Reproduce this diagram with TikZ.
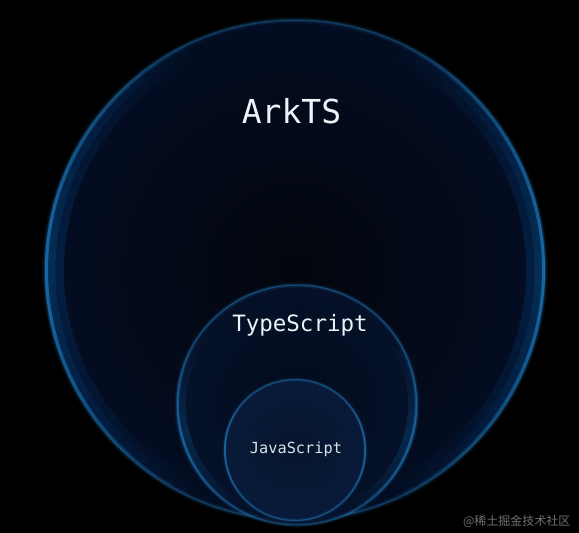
\documentclass[tikz,border=0pt]{standalone}
\usepackage{fontspec}
\setmonofont{DejaVu Sans Mono}
\newfontfamily\cjkfont{Noto Sans CJK SC}
\definecolor{arkcore}{HTML}{02050C}
\definecolor{arkinner}{HTML}{04102A}
\definecolor{arkmid}{HTML}{0C3066}
\definecolor{arkrim}{HTML}{1862B8}
\definecolor{tscore}{HTML}{040C1E}
\definecolor{tsinner}{HTML}{06142E}
\definecolor{tsmid}{HTML}{0E3062}
\definecolor{tsrim}{HTML}{1C62B2}
\definecolor{jscore}{HTML}{07162F}
\definecolor{jsinner}{HTML}{0A1E3E}
\definecolor{jsmid}{HTML}{103464}
\definecolor{jsrim}{HTML}{206ABA}
\definecolor{rimblue}{HTML}{2C9BEA}
\definecolor{labelwhite}{HTML}{EEF3FA}
\definecolor{markgrey}{HTML}{707070}
\pgfdeclareradialshading{arkball}{\pgfpoint{0bp}{0bp}}{color(0bp)=(arkcore); color(34bp)=(arkinner); color(44.5bp)=(arkmid); color(48.5bp)=(arkrim); color(50bp)=(rimblue)}
\pgfdeclareradialshading{tsball}{\pgfpoint{0bp}{0bp}}{color(0bp)=(tscore); color(30bp)=(tsinner); color(43bp)=(tsmid); color(48.3bp)=(tsrim); color(50bp)=(rimblue)}
\pgfdeclareradialshading{jsball}{\pgfpoint{0bp}{0bp}}{color(0bp)=(jscore); color(30bp)=(jsinner); color(43bp)=(jsmid); color(48.3bp)=(jsrim); color(50bp)=(rimblue)}
\tikzset{
  bubble/.style={circle,inner sep=0pt,shade},
  bubbletext/.style={anchor=base,text=labelwhite},
  sideglow/.style={rimblue,line width=3pt,opacity=0.05}
}

\begin{document}
\begin{tikzpicture}[x=1pt,y=-1pt]
        % 背景
        \fill[black] (0,0) rectangle (579,533);
        \useasboundingbox (0,0) rectangle (579,533);

        % 三个嵌套的圆
        \node[bubble,shading=arkball,minimum size=500pt] (arkts) at (295,270) {};
        \foreach \w/\o in {6/0.07,3/0.12,1.5/0.2}
            \draw[rimblue,line width=\w pt,opacity=\o] (arkts.center) circle[radius=250pt];
        \foreach \s in {4,8,...,64}{
            \draw[sideglow] ([shift={(180-\s:248.5pt)}]arkts.center) arc[start angle=180-\s,end angle=180+\s,radius=248.5pt];
            \draw[sideglow] ([shift={(-\s:248.5pt)}]arkts.center) arc[start angle=-\s,end angle=\s,radius=248.5pt];
            \foreach \r/\w in {244/9,240/18}{
                \draw[sideglow,line width=\w pt,opacity=0.012] ([shift={(180-\s:\r pt)}]arkts.center) arc[start angle=180-\s,end angle=180+\s,radius=\r pt];
                \draw[sideglow,line width=\w pt,opacity=0.012] ([shift={(-\s:\r pt)}]arkts.center) arc[start angle=-\s,end angle=\s,radius=\r pt];
            }
        }

        \node[bubble,shading=tsball,minimum size=240pt,opacity=0.9] (typescript) at (297,405) {};
        \foreach \w/\o in {5/0.08,2.5/0.15,1/0.3}
            \draw[rimblue,line width=\w pt,opacity=\o] (typescript.center) circle[radius=120pt];
        \foreach \s in {4,8,...,44}{
            \draw[sideglow,line width=2pt] ([shift={(195-\s:119pt)}]typescript.center) arc[start angle=195-\s,end angle=195+\s,radius=119pt];
            \draw[sideglow,line width=2pt] ([shift={(-15-\s:119pt)}]typescript.center) arc[start angle=-15-\s,end angle=-15+\s,radius=119pt];
            \draw[sideglow,line width=8pt,opacity=0.02] ([shift={(195-\s:115pt)}]typescript.center) arc[start angle=195-\s,end angle=195+\s,radius=115pt];
            \draw[sideglow,line width=8pt,opacity=0.02] ([shift={(-15-\s:115pt)}]typescript.center) arc[start angle=-15-\s,end angle=-15+\s,radius=115pt];
        }

        \node[bubble,shading=jsball,minimum size=141pt,opacity=0.9] (javascript) at (295,450) {};
        \foreach \w/\o in {4/0.08,2/0.15,1/0.3}
            \draw[rimblue,line width=\w pt,opacity=\o] (javascript.center) circle[radius=70.5pt];
        \foreach \s in {4,8,...,44}{
            \draw[sideglow,line width=1.5pt] ([shift={(180-\s:70pt)}]javascript.center) arc[start angle=180-\s,end angle=180+\s,radius=70pt];
            \draw[sideglow,line width=1.5pt] ([shift={(-\s:70pt)}]javascript.center) arc[start angle=-\s,end angle=\s,radius=70pt];
        }

        % 文字
        \node[bubbletext,font=\ttfamily\fontsize{33}{33}\selectfont] (arktslabel) at (291.5,123) {ArkTS};
        \node[bubbletext,font=\ttfamily\fontsize{22.5}{22.5}\selectfont] (typescriptlabel) at (300,331) {TypeScript};
        \node[bubbletext,font=\ttfamily\fontsize{15.3}{15.3}\selectfont,text=labelwhite!85!gray] (javascriptlabel) at (296,453) {JavaScript};

        % 水印
        \node[anchor=east,text=markgrey,font=\cjkfont\fontsize{12}{12}\selectfont] (watermark) at (574,521) {@稀土掘金技术社区};
    \end{tikzpicture}
\end{document}
